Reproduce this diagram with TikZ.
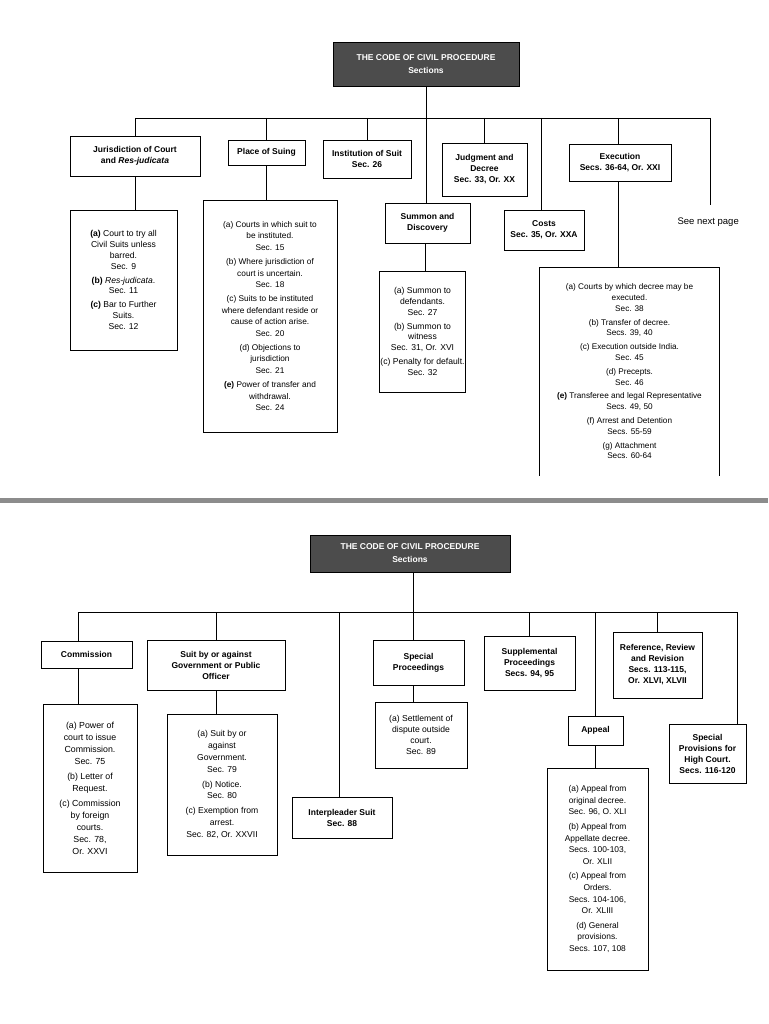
\documentclass[tikz,border=0pt]{standalone}
\usepackage{fontspec}
\setmainfont{Liberation Sans}
\begin{document}
\begin{tikzpicture}[x=1pt,y=-1pt,
  box/.style={draw,line width=0.6pt,inner sep=1pt,align=center,font=\fontsize{8.5}{11}\selectfont\bfseries},
  cbox/.style={draw,line width=0.6pt,inner sep=1pt,align=center,font=\fontsize{8.6}{10.8}\selectfont},
  ttl/.style={draw,line width=0.8pt,fill=black!70,text=white,align=center,font=\fontsize{8.5}{13}\selectfont\bfseries},
  ln/.style={line width=0.6pt}]
\useasboundingbox (0,0) rectangle (768,1024);
\fill[white] (0,0) rectangle (768,1024);
% ---------- top ----------
\node[ttl,minimum width=186pt,minimum height=44pt] (t1) at (426,64) {THE CODE OF CIVIL PROCEDURE\\Sections};
\coordinate (b1l) at (135,118);
\coordinate (b1r) at (710,118);
\draw[ln] (b1l) -- (b1r);
\node[box,minimum width=130pt,minimum height=40pt] (jur) at (135,156) {Jurisdiction of Court\\and \textit{Res-judicata}};
\node[cbox,minimum width=107pt,minimum height=140pt] (jurc) at (123.5,280) {\textbf{(a)} Court to try all\\Civil Suits unless\\barred.\\Sec. 9\\[3pt]\textbf{(b)} \textit{Res-judicata}.\\Sec. 11\\[3pt]\textbf{(c)} Bar to Further\\Suits.\\Sec. 12};
\node[box,minimum width=77pt,minimum height=25pt] (place) at (266.5,152.5) {Place of Suing};
\node[cbox,minimum width=134pt,minimum height=232pt,font=\fontsize{8.3}{11.4}\selectfont] (placec) at (270,316) {(a) Courts in which suit to\\be instituted.\\Sec. 15\\[3pt](b) Where jurisdiction of\\court is uncertain.\\Sec. 18\\[3pt](c) Suits to be instituted\\where defendant reside or\\cause of action arise.\\Sec. 20\\[3pt](d) Objections to\\jurisdiction\\Sec. 21\\[3pt]\textbf{(e)} Power of transfer and\\withdrawal.\\Sec. 24};
\node[box,minimum width=88pt,minimum height=38pt] (inst) at (367,159) {Institution of Suit\\Sec. 26};
\node[box,minimum width=85pt,minimum height=53pt] (judg) at (484.5,169.5) {Judgment and\\Decree\\Sec. 33, Or. XX};
\node[box,minimum width=102pt,minimum height=37pt] (exec) at (620,162.5) {Execution\\Secs. 36-64, Or. XXI};
\node[cbox,minimum width=179pt,minimum height=208pt,draw=none,anchor=north,font=\fontsize{8.2}{10.8}\selectfont] (execc) at (629.5,267) {(a) Courts by which decree may be\\executed.\\Sec. 38\\[3pt](b) Transfer of decree.\\Secs. 39, 40\\[3pt](c) Execution outside India.\\Sec. 45\\[3pt](d) Precepts.\\Sec. 46\\[3pt]\textbf{(e)} Transferee and legal Representative\\Secs. 49, 50\\[3pt](f) Arrest and Detention\\Secs. 55-59\\[3pt](g) Attachment\\Secs. 60-64};
\draw[ln] (execc.south west) -- (execc.north west) -- (execc.north east) -- (execc.south east);
\node[box,minimum width=85pt,minimum height=40pt] (summ) at (427.5,223) {Summon and\\Discovery};
\node[cbox,minimum width=83pt,minimum height=121pt] (summc) at (422.5,331.5) {(a) Summon to\\defendants.\\Sec. 27\\[3pt](b) Summon to\\witness\\Sec. 31, Or. XVI\\[3pt](c) Penalty for default.\\Sec. 32};
\node[box,minimum width=80pt,minimum height=40pt] (costs) at (544,230) {Costs\\Sec. 35, Or. XXA};
\node[font=\fontsize{9.5}{11}\selectfont,anchor=west] (next) at (674,222) {See next page};
\draw[ln] (t1.south) -- (t1.south |- summ.north);
\draw[ln] (jur.north |- b1l) -- (jur.north);
\draw[ln] (jur.south) -- (jur.south |- jurc.north);
\draw[ln] (place.north |- b1l) -- (place.north);
\draw[ln] (place.south) -- (place.south |- placec.north);
\draw[ln] (inst.north |- b1l) -- (inst.north);
\draw[ln] (judg.north |- b1l) -- (judg.north);
\draw[ln] (618,118) -- (exec.north -| 618,0);
\draw[ln] (exec.south -| 618,0) -- (execc.north -| 618,0);
\draw[ln] (summ.south -| 425,0) -- (summc.north -| 425,0);
\draw[ln] (541,118) -- (costs.north -| 541,0);
\draw[ln] (b1r) -- (710,205);
% separator
\fill[black!45] (0,498) rectangle (768,503);
% ---------- bottom ----------
\node[ttl,minimum width=200pt,minimum height=37pt] (t2) at (410,553.5) {THE CODE OF CIVIL PROCEDURE\\Sections};
\coordinate (b2l) at (78,612);
\coordinate (b2r) at (737,612);
\draw[ln] (b2l) -- (b2r);
\draw[ln] (t2.south -| 413,0) -- (413,612);
\node[box,minimum width=91pt,minimum height=27pt] (comm) at (86.5,654.5) {Commission};
\node[cbox,minimum width=94pt,minimum height=168pt,font=\fontsize{8.8}{12}\selectfont] (commc) at (90,788) {(a) Power of\\court to issue\\Commission.\\Sec. 75\\[3pt](b) Letter of\\Request.\\[3pt](c) Commission\\by foreign\\courts.\\Sec. 78,\\Or. XXVI};
\node[box,minimum width=138pt,minimum height=50pt] (suit) at (216,665) {Suit by or against\\Government or Public\\Officer};
\node[cbox,minimum width=110pt,minimum height=141pt,font=\fontsize{8.6}{11.8}\selectfont] (suitc) at (222,784.5) {(a) Suit by or\\against\\Government.\\Sec. 79\\[3pt](b) Notice.\\Sec. 80\\[3pt](c) Exemption from\\arrest.\\Sec. 82, Or. XXVII};
\node[box,minimum width=100pt,minimum height=41pt] (inter) at (342,817.5) {Interpleader Suit\\Sec. 88};
\node[box,minimum width=91pt,minimum height=45pt] (spec) at (418.5,662.5) {Special\\Proceedings};
\node[cbox,minimum width=92pt,minimum height=66pt] (specc) at (421,735) {(a) Settlement of\\dispute outside\\court.\\Sec. 89};
\node[box,minimum width=91pt,minimum height=54pt] (supp) at (529.5,663) {Supplemental\\Proceedings\\Secs. 94, 95};
\node[box,minimum width=55pt,minimum height=29pt] (appeal) at (595.5,730.5) {Appeal};
\node[cbox,minimum width=101pt,minimum height=202pt,font=\fontsize{8.4}{11.6}\selectfont] (appc) at (597.5,869) {(a) Appeal from\\original decree.\\Sec. 96, O. XLI\\[3pt](b) Appeal from\\Appellate decree.\\Secs. 100-103,\\Or. XLII\\[3pt](c) Appeal from\\Orders.\\Secs. 104-106,\\Or. XLIII\\[3pt](d) General\\provisions.\\Secs. 107, 108};
\node[box,minimum width=89pt,minimum height=66pt] (ref) at (657.5,665) {Reference, Review\\and Revision\\Secs. 113-115,\\Or. XLVI, XLVII};
\node[box,minimum width=77pt,minimum height=59pt] (sprov) at (707.5,753.5) {Special\\Provisions for\\High Court.\\Secs. 116-120};
\draw[ln] (b2l) -- (comm.north -| b2l);
\draw[ln] (comm.south -| 78,0) -- (commc.north -| 78,0);
\draw[ln] (suit.north |- b2l) -- (suit.north);
\draw[ln] (suit.south) -- (suit.south |- suitc.north);
\draw[ln] (339,612) -- (inter.north -| 339,0);
\draw[ln] (spec.north -| 413,0) -- (413,612);
\draw[ln] (spec.south -| 413,0) -- (specc.north -| 413,0);
\draw[ln] (supp.north |- b2l) -- (supp.north);
\draw[ln] (595,612) -- (appeal.north -| 595,0);
\draw[ln] (appeal.south -| 595,0) -- (appc.north -| 595,0);
\draw[ln] (ref.north |- b2l) -- (ref.north);
\draw[ln] (b2r) -- (sprov.north -| b2r);
\end{tikzpicture}
\end{document}
